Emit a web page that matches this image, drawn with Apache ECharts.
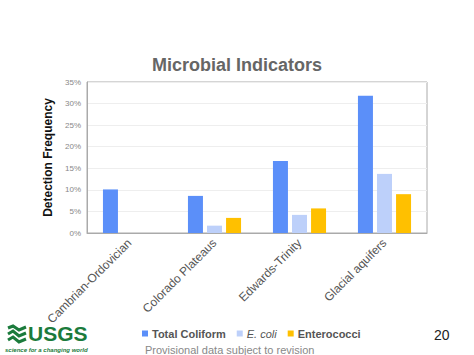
<!DOCTYPE html>
<html><head><meta charset="utf-8">
<script src="https://cdn.jsdelivr.net/npm/echarts@6/dist/echarts.min.js"></script>
<style>html,body{margin:0;padding:0;background:#fff}#c{width:474px;height:355px}</style>
</head><body><div id="c"></div>
<script>
const categories = ['Cambrian-Ordovician', 'Colorado Plateaus', 'Edwards-Trinity', 'Glacial aquifers'];
const totalColiform = [10.1, 8.6, 16.7, 31.8];
const eColi = [null, 1.7, 4.2, 13.7];
const enterococci = [null, 3.5, 5.7, 9.0];
const seriesNames = ['Total Coliform', 'E. coli', 'Enterococci'];

const chart = echarts.init(document.getElementById('c'), null, {renderer: 'svg'});
const FONT = 'Liberation Sans, Arial, sans-serif';
const GREEN = '#1b7b3c';
chart.setOption({
  animation: false,
  backgroundColor: '#fff',
  title: {
    text: 'Microbial Indicators', left: 'center', top: 51,
    textStyle: {fontFamily: FONT, fontSize: 18, fontWeight: 'bold', color: '#666'}
  },
  grid: {left: 87, right: 47, top: 82, bottom: 122, show: true, borderColor: '#aaa', borderWidth: 1},
  legend: {
    top: 326, left: 137, itemWidth: 6, itemHeight: 6, itemGap: 11, icon: 'rect', padding: [2, 5, 2, 5],
    textStyle: {fontFamily: FONT, fontSize: 11, color: '#555', fontWeight: 'bold', padding: [0, 0, 0, -1]},
    data: [
      {name: seriesNames[0]},
      {name: seriesNames[1], textStyle: {fontStyle: 'italic', fontWeight: 'normal'}},
      {name: seriesNames[2]}
    ]
  },
  xAxis: {
    type: 'category', data: categories,
    axisLine: {lineStyle: {color: '#aaa'}}, axisTick: {show: false},
    axisLabel: {rotate: 45, interval: 0, fontFamily: FONT, fontSize: 12, color: '#555', margin: 8}
  },
  yAxis: {
    type: 'value', min: 0, max: 35, interval: 5,
    name: 'Detection Frequency', nameLocation: 'middle', nameGap: 27, nameRotate: 90,
    nameTextStyle: {fontFamily: FONT, fontSize: 12, fontWeight: 'bold', color: '#111'},
    axisLine: {show: true, lineStyle: {color: '#aaa'}}, axisTick: {show: false},
    axisLabel: {formatter: '{value}%', fontFamily: FONT, fontSize: 8, color: '#888', margin: 6},
    splitLine: {lineStyle: {color: '#eee'}}
  },
  series: [
    {name: seriesNames[0], type: 'bar', data: totalColiform, barWidth: 15, barGap: '27%', itemStyle: {color: '#5b8ff9'}},
    {name: seriesNames[1], type: 'bar', data: eColi, barWidth: 15, itemStyle: {color: '#bdd0fa'}},
    {name: seriesNames[2], type: 'bar', data: enterococci, barWidth: 15, itemStyle: {color: '#ffc000'}}
  ],
  graphic: [
    {type: 'text', left: 434, top: 328, style: {text: '20', fontFamily: FONT, fontSize: 14, fill: '#222'}},
    {type: 'text', left: 145, top: 344, style: {text: 'Provisional data subject to revision', fontFamily: FONT, fontSize: 11, fill: '#888'}},
    {type: 'text', left: 28, top: 323, style: {text: 'USGS', fontFamily: FONT, fontSize: 21, fontWeight: 'bold', fill: GREEN}},
    {type: 'polyline', shape: {points: [[8,328],[13,326],[19,330],[26,327]]}, style: {stroke: GREEN, lineWidth: 3, fill: null}},
    {type: 'polyline', shape: {points: [[8,334],[13,331],[19,336],[26,333]]}, style: {stroke: GREEN, lineWidth: 3, fill: null}},
    {type: 'polyline', shape: {points: [[8,340],[13,337],[19,342],[26,339]]}, style: {stroke: GREEN, lineWidth: 3, fill: null}},
    {type: 'text', left: 5, top: 347, style: {text: 'science for a changing world', fontFamily: FONT, fontSize: 6, fontStyle: 'italic', fontWeight: 'bold', fill: GREEN}}
  ]
});
</script></body></html>
